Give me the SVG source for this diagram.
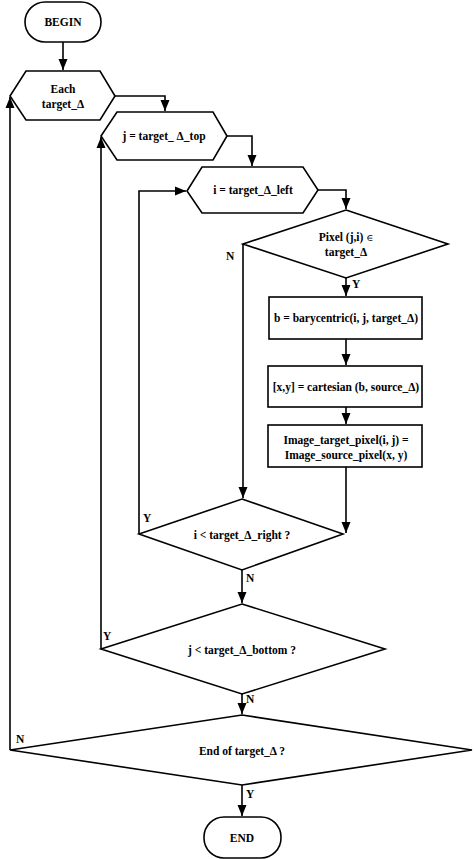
<svg xmlns="http://www.w3.org/2000/svg" width="474" height="859" viewBox="0 0 474 859">
<style>
.s{fill:#fff;stroke:#000;stroke-width:1.6}
.c{fill:none;stroke:#000;stroke-width:1.6}
text{font-family:"Liberation Serif","Times New Roman",serif;font-weight:bold;font-size:11.5px;fill:#000;text-anchor:middle;dominant-baseline:central}
.l{text-anchor:start}
.e{font-family:"DejaVu Serif",serif;font-weight:normal;font-size:9.5px}
</style>
<defs>
<marker id="a" markerUnits="userSpaceOnUse" markerWidth="12" markerHeight="12" viewBox="0 0 12 12" refX="11" refY="6" orient="auto">
<path d="M0,1.5 L11,6 L0,10.5 Z" fill="#000"/>
</marker>
</defs>
<rect width="474" height="859" fill="#fff"/>
<g id="connectors">
<path class="c" d="M63,42 V70" marker-end="url(#a)"/>
<path class="c" d="M115,96 H165 V111" marker-end="url(#a)"/>
<path class="c" d="M227,136 H252 V166" marker-end="url(#a)"/>
<path class="c" d="M318,190 H346 V209" marker-end="url(#a)"/>
<path class="c" d="M346,278 V296" marker-end="url(#a)"/>
<path class="c" d="M346,339 V365" marker-end="url(#a)"/>
<path class="c" d="M346,407 V424" marker-end="url(#a)"/>
<path class="c" d="M346,467 V533" marker-end="url(#a)"/>
<path class="c" d="M243,244 V498" marker-end="url(#a)"/>
<path class="c" d="M139,534 V191 H186" marker-end="url(#a)"/>
<path class="c" d="M242,570 V603" marker-end="url(#a)"/>
<path class="c" d="M101,649 V137" marker-end="url(#a)"/>
<path class="c" d="M242,694 V714" marker-end="url(#a)"/>
<path class="c" d="M10,750 V97" marker-end="url(#a)"/>
<path class="c" d="M242,785 V816" marker-end="url(#a)"/>
<text class="l" x="226" y="256">N</text>
<text class="l" x="352" y="284">Y</text>
<text class="l" x="143" y="518">Y</text>
<text class="l" x="246" y="578">N</text>
<text class="l" x="103" y="636">Y</text>
<text class="l" x="246" y="699">N</text>
<text class="l" x="16" y="739">N</text>
<text class="l" x="246" y="794">Y</text>
</g>
<g id="begin">
<rect class="s" x="25" y="2" width="76" height="40" rx="20"/>
<text x="63" y="22">BEGIN</text>
</g>
<g id="each">
<polygon class="s" points="10,96 26,71 100,71 115,96 100,120 26,120"/>
<text x="63" y="89">Each</text>
<text x="63" y="104">target_Δ</text>
</g>
<g id="jtop">
<polygon class="s" points="101,136 117,112 213,112 227,136 213,160 117,160"/>
<text x="164" y="136">j = target_ Δ_top</text>
</g>
<g id="ileft">
<polygon class="s" points="187,191 202,167 303,167 318,190 303,213 202,213"/>
<text x="253" y="190">i = target_Δ_left</text>
</g>
<g id="pixelin">
<polygon class="s" points="346,210 448,244 346,278 243,244"/>
<text x="346" y="237">Pixel (j,i) <tspan class="e">∈</tspan></text>
<text x="346" y="252">target_Δ</text>
</g>
<g id="bary">
<rect class="s" x="269" y="297" width="153" height="42"/>
<text x="346" y="318">b = barycentric(i, j, target_Δ)</text>
</g>
<g id="cart">
<rect class="s" x="268" y="366" width="154" height="41"/>
<text x="346" y="387">[x,y] = cartesian (b, source_Δ)</text>
</g>
<g id="assign">
<rect class="s" x="268" y="425" width="154" height="42"/>
<text x="346" y="440">Image_target_pixel(i, j) =</text>
<text x="346" y="455">Image_source_pixel(x, y)</text>
</g>
<g id="iright">
<polygon class="s" points="242,499 343,534 242,570 139,534"/>
<text x="242" y="535">i &lt; target_Δ_right ?</text>
</g>
<g id="jbottom">
<polygon class="s" points="242,604 385,649 242,694 101,649"/>
<text x="242" y="650">j &lt; target_Δ_bottom ?</text>
</g>
<g id="endtri">
<polygon class="s" points="242,715 472,750 242,785 10,750"/>
<text x="242" y="751">End of target_Δ ?</text>
</g>
<g id="end">
<rect class="s" x="204" y="817" width="77" height="41" rx="20"/>
<text x="242" y="838">END</text>
</g>
</svg>
